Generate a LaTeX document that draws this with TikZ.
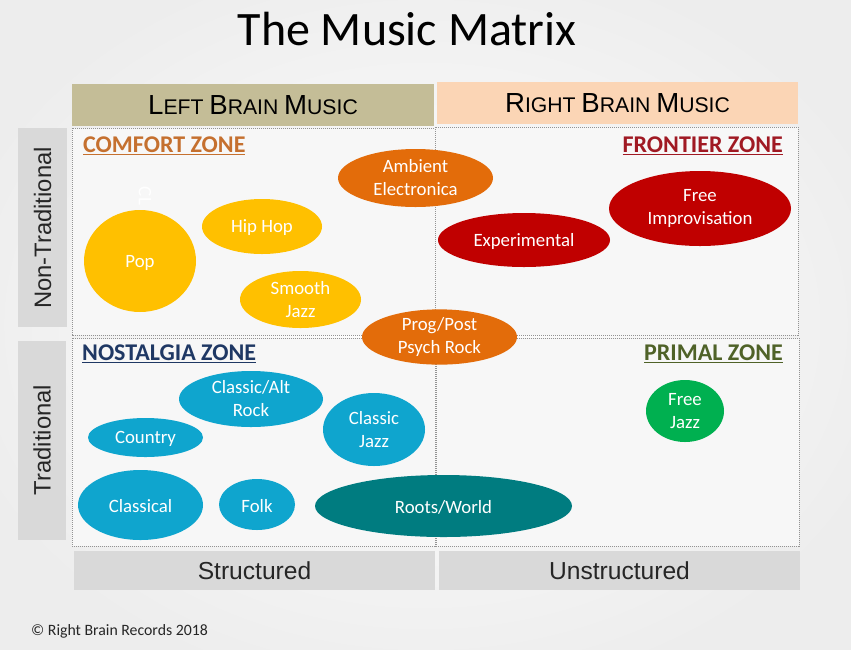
\documentclass[tikz,border=0pt]{standalone}
\usepackage{fontspec}
\setmainfont{Carlito}
\newfontfamily\headfont{Liberation Sans}
\usetikzlibrary{shapes.geometric}
\definecolor{popyellow}{HTML}{FFC000}
\definecolor{zoneorange}{HTML}{E36C0A}
\definecolor{zonered}{HTML}{C00000}
\definecolor{zoneblue}{HTML}{0FA5CE}
\definecolor{zonegreen}{HTML}{00B050}
\definecolor{rootsteal}{HTML}{007C80}
\definecolor{leftbar}{HTML}{C4BD97}
\definecolor{rightbar}{HTML}{FBD5B5}
\definecolor{comforttext}{HTML}{C5702F}
\definecolor{frontiertext}{HTML}{A01923}
\definecolor{nostalgiatext}{HTML}{1F3864}
\definecolor{primaltext}{HTML}{4F6228}
\newcommand{\capword}[2]{{\fontsize{27.6}{28}\selectfont #1}{\fontsize{21.2}{22}\selectfont\uppercase{#2}}}
\tikzset{
    bubble/.style={ellipse,inner sep=0pt,align=center,text=white,font=\fontsize{18.8}{23}\selectfont,
        execute at begin node={\rule{0pt}{15.5pt}}},
    panel/.style={draw=gray!85,dash pattern=on 1.2pt off 0.8pt,line width=0.5pt,fill=black!3},
    headbar/.style={inner sep=0pt,font=\headfont},
    greybar/.style={headbar,fill=black!15,text=black!85,font=\headfont\fontsize{24.6}{24.6}\selectfont},
    sidelabel/.style={inner sep=0pt,rotate=90,text=black!85,font=\headfont\fontsize{23.8}{23.8}\selectfont},
    zonetitle/.style={inner sep=0pt,font=\bfseries\fontsize{24}{24}\selectfont},
}
\begin{document}
\begin{tikzpicture}[x=1pt,y=-1pt]
\useasboundingbox (0,0) rectangle (851,649);
\shade[inner color=white,outer color=black!7] (-60,-50) rectangle (911,699);
% the four quadrants
\draw[panel] (72,128) rectangle (435,335);
\draw[panel] (435,127) rectangle (798,335);
\draw[panel] (72,338) rectangle (435,546);
\draw[panel] (436,338) rectangle (799,546);
% bars round the matrix
\node (title) at (407,29) [inner sep=0pt,font=\fontsize{48}{50}\selectfont] {The Music Matrix};
\node[headbar,fill=leftbar,minimum width=362pt,minimum height=42pt] (leftbrain) at (253,105) {\capword{L}{eft}\hspace{3pt} \capword{B}{rain}\hspace{3pt} \capword{M}{usic}};
\node[headbar,fill=rightbar,minimum width=361pt,minimum height=42pt] (rightbrain) at (617.5,103) {\capword{R}{ight}\hspace{3pt} \capword{B}{rain}\hspace{3pt} \capword{M}{usic}};
\node[greybar,minimum width=49pt,minimum height=199pt] (nontradbar) at (42.5,227.5) {};
\node[sidelabel] (nontrad) at (42.5,228) {Non-Traditional};
\node[greybar,minimum width=48pt,minimum height=199pt] (tradbar) at (42,440.5) {};
\node[sidelabel] (trad) at (42,440) {Traditional};
\node[greybar,minimum width=361pt,minimum height=39pt] (structured) at (254.5,570.5) {Structured};
\node[greybar,minimum width=361pt,minimum height=39pt] (unstructured) at (619.5,570.5) {Unstructured};
% zone names
\node[zonetitle,anchor=west,text=comforttext] (comfort) at (83,146) {\underline{COMFORT ZONE}};
\node[zonetitle,anchor=east,text=frontiertext] (frontier) at (783,146) {\underline{FRONTIER ZONE}};
\node[zonetitle,anchor=west,text=nostalgiatext] (nostalgia) at (82,354) {\underline{NOSTALGIA ZONE}};
\node[zonetitle,anchor=east,text=primaltext] (primal) at (783,354) {\underline{PRIMAL ZONE}};
% comfort
\node[bubble,fill=popyellow,minimum width=112pt,minimum height=102pt] (pop) at (140,261) {Pop};
\node[bubble,fill=popyellow,minimum width=120pt,minimum height=55pt] (hiphop) at (262,226.5) {Hip Hop};
\node[bubble,fill=popyellow,minimum width=121pt,minimum height=57pt] (smooth) at (300.5,299.5) {Smooth\\Jazz};
\node[inner sep=0pt,rotate=-90,text=white,font=\fontsize{19}{19}\selectfont] (stray) at (145,196) {CL};
% frontier
\node[bubble,fill=zoneorange,minimum width=155pt,minimum height=58pt] (ambient) at (415.5,178) {Ambient\\Electronica};
\node[bubble,fill=zonered,minimum width=172pt,minimum height=54pt] (experimental) at (524,240) {Experimental};
\node[bubble,fill=zonered,minimum width=182pt,minimum height=75pt] (freeimp) at (700,208.5) {Free\\Improvisation};
\node[bubble,fill=zoneorange,minimum width=155pt,minimum height=50pt] (prog) at (439.5,337) {Prog/Post\\Psych Rock};
% nostalgia
\node[bubble,fill=zoneblue,minimum width=144pt,minimum height=56pt] (classicalt) at (251,399) {Classic/Alt\\Rock};
\node[bubble,fill=zoneblue,minimum width=115pt,minimum height=39pt] (country) at (145.5,437.5) {Country};
\node[bubble,fill=zoneblue,minimum width=102pt,minimum height=73pt] (classicjazz) at (374,429.5) {Classic\\Jazz};
\node[bubble,fill=zoneblue,minimum width=125pt,minimum height=70pt] (classical) at (140.5,505) {Classical};
\node[bubble,fill=zoneblue,minimum width=76pt,minimum height=51pt] (folk) at (257,504.5) {Folk};
\node[bubble,fill=rootsteal,minimum width=257pt,minimum height=62pt] (roots) at (443.5,506) {Roots/World};
% primal
\node[bubble,fill=zonegreen,minimum width=78pt,minimum height=62pt] (freejazz) at (685,411) {Free\\Jazz};
\node[anchor=west,inner sep=0pt,text=black!85,font=\fontsize{15.8}{16}\selectfont] (copyright) at (31,631) {© Right Brain Records 2018};
\end{tikzpicture}
\end{document}
